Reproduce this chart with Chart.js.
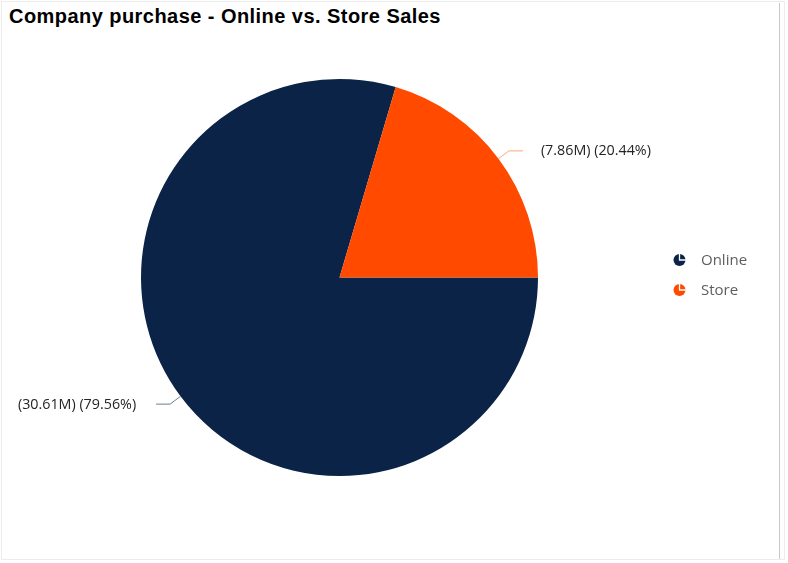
<!DOCTYPE html>
<html>
<head>
<meta charset="utf-8">
<script src="https://cdn.jsdelivr.net/npm/chart.js@4"></script>
<style>
  body { margin: 0; background: #fff; }
  #wrap { position: relative; width: 788px; height: 563px; overflow: hidden; }
  #frame { position: absolute; left: 1px; top: 1px; width: 784px; height: 559px; border: 1px solid #ececec; box-sizing: border-box; }
  #vline { position: absolute; left: 779px; top: 3px; width: 1px; height: 556px; background: #c8c8c8; }
  #title { position: absolute; left: 9px; top: 5px; font: bold 20px "Liberation Sans", Arial, sans-serif; letter-spacing: 0.45px; color: #000; white-space: nowrap; }
  canvas { position: absolute; left: 0; top: 0; }
</style>
</head>
<body>
<div id="wrap">
  <div id="frame"></div>
  <div id="vline"></div>
  <div id="title">Company purchase - Online vs. Store Sales</div>
  <canvas id="pie" width="788" height="563"></canvas>
</div>
<script>
const channels = ['Online', 'Store'];
const salesM = [30.61, 7.86];          // sales in millions
const sharePct = [79.56, 20.44];       // share as shown on the labels
const colors = ['#0A2347', '#FF4A00'];
const lineColors = ['#6E7D92', '#FBA483'];

// leader lines + "(value) (percent)" labels
const sliceLabels = {
    id: 'sliceLabels',
    afterDatasetsDraw(chart) {
        const ctx = chart.ctx;
        const arcs = chart.getDatasetMeta(0).data;
        ctx.save();
        ctx.font = '14.3px "Open Sans", "Noto Sans", sans-serif';
        ctx.textBaseline = 'middle';
        arcs.forEach((arc, i) => {
            const p = arc.getProps(['x', 'y', 'startAngle', 'endAngle', 'outerRadius'], true);
            const mid = (p.startAngle + p.endAngle) / 2;
            const cos = Math.cos(mid), sin = Math.sin(mid);
            const x0 = p.x + p.outerRadius * cos, y0 = p.y + p.outerRadius * sin;
            const x1 = p.x + (p.outerRadius + 13) * cos, y1 = p.y + (p.outerRadius + 13) * sin;
            const dir = cos >= 0 ? 1 : -1;
            const x2 = x1 + dir * 14;
            ctx.strokeStyle = lineColors[i];
            ctx.lineWidth = 1;
            ctx.beginPath();
            ctx.moveTo(x0, y0);
            ctx.lineTo(x1, y1);
            ctx.lineTo(x2, y1);
            ctx.stroke();
            ctx.fillStyle = '#252423';
            ctx.textAlign = dir > 0 ? 'left' : 'right';
            const txt = '(' + salesM[i].toFixed(2) + 'M) (' + sharePct[i].toFixed(2) + '%)';
            ctx.fillText(txt, x2 + dir * (dir > 0 ? 18 : 20), y1 + 0.5);
        });
        ctx.restore();
    }
};

// legend on the right with pie-shaped markers
const pieLegend = {
    id: 'pieLegend',
    afterDraw(chart) {
        const ctx = chart.ctx;
        ctx.save();
        channels.forEach((name, i) => {
            const cx = 679.5, cy = 260 + i * 30;
            ctx.fillStyle = colors[i];
            ctx.beginPath();
            ctx.arc(cx, cy, 6, 0, Math.PI * 2);
            ctx.fill();
            ctx.strokeStyle = '#fff';
            ctx.lineWidth = 1.3;
            ctx.beginPath();
            ctx.moveTo(cx, cy - 7);
            ctx.lineTo(cx, cy);
            ctx.lineTo(cx + 7, cy);
            ctx.stroke();
            ctx.fillStyle = '#605E5C';
            ctx.font = '15px "Open Sans", "Noto Sans", sans-serif';
            ctx.textAlign = 'left';
            ctx.textBaseline = 'middle';
            ctx.fillText(name, 701, cy + 1);
        });
        ctx.restore();
    }
};

new Chart(document.getElementById('pie'), {
    type: 'pie',
    data: {
        labels: channels,
        datasets: [{
            data: salesM,
            backgroundColor: colors,
            borderWidth: 0
        }]
    },
    options: {
        responsive: false,
        animation: false,
        rotation: 90,
        layout: { padding: { left: 141, right: 250, top: 79, bottom: 87 } },
        plugins: {
            legend: { display: false },
            tooltip: { enabled: false },
            title: { display: false }
        }
    },
    plugins: [sliceLabels, pieLegend]
});
</script>
</body>
</html>
